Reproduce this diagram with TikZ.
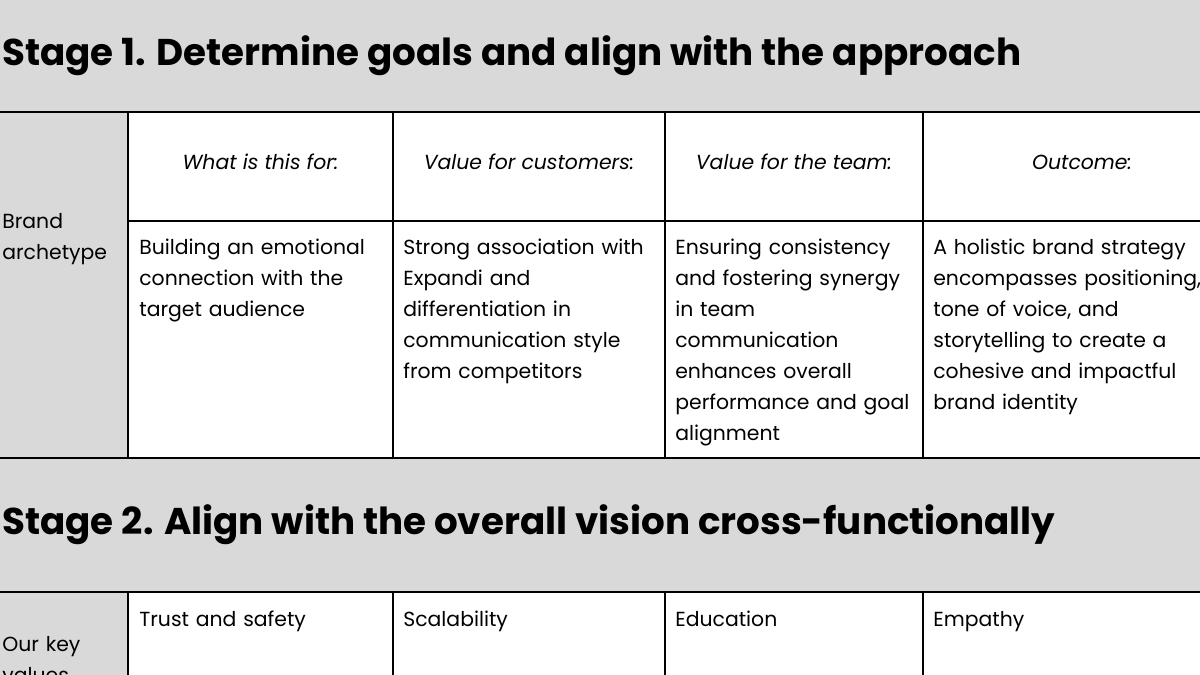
\documentclass[tikz,border=0pt]{standalone}
\usepackage{fontspec}
\setmainfont{Poppins}
\definecolor{bandgray}{HTML}{D9D9D9}
\tikzset{
  celltext/.style={anchor=north west, inner sep=0pt, align=left, text width=#1,
    font=\fontsize{11.6}{17.6}\selectfont},
  headtext/.style={inner sep=0pt, font=\fontsize{11.6}{14}\selectfont\itshape},
  stagetext/.style={anchor=west, inner sep=0pt, font=\fontsize{21.2}{25}\selectfont\bfseries},
  rule/.style={draw=black, line width=0.6pt}
}
\begin{document}
\begin{tikzpicture}[x=0.02cm, y=-0.02cm]
\useasboundingbox (0,0) rectangle (1200,675);
\clip (0,0) rectangle (1200,675);
% bands
\fill[bandgray] (0,0) rectangle (1200,112);
\fill[bandgray] (0,112) rectangle (128,458);
\fill[bandgray] (0,458) rectangle (1200,592);
\fill[bandgray] (0,592) rectangle (128,675);

\node[stagetext] (s1) at (2,56) {Stage 1. Determine goals and align with the approach};
\node[stagetext] (s2) at (2,525) {Stage 2. Align with the overall vision cross-functionally};

% grid lines
\draw[rule] (0,112) -- (1200,112);
\draw[rule] (128,221) -- (1200,221);
\draw[rule] (0,458) -- (1200,458);
\draw[rule] (0,592) -- (1200,592);
\foreach \xx in {128,393,665,923}{
  \draw[rule] (\xx,112) -- (\xx,458);
  \draw[rule] (\xx,592) -- (\xx,675);
}

% stage 1 row
\node[celltext=124] (brand) at (2,213) {Brand\\archetype};
\node[headtext] (h1) at (260.5,162) {What is this for:};
\node[headtext] (h2) at (529,162) {Value for customers:};
\node[headtext] (h3) at (794,162) {Value for the team:};
\node[headtext] (h4) at (1082,162) {Outcome:};

\node[celltext=250] (c1) at (139,239) {Building an emotional\\connection with the\\target audience};
\node[celltext=255] (c2) at (403,239) {Strong association with\\Expandi and\\differentiation in\\communication style\\from competitors};
\node[celltext=245] (c3) at (675,239) {Ensuring consistency\\and fostering synergy\\in team\\communication\\enhances overall\\performance and goal\\alignment};
\node[celltext=300] (c4) at (933,239) {A holistic brand strategy\\encompasses positioning,\\tone of voice, and\\storytelling to create a\\cohesive and impactful\\brand identity};

% stage 2 row
\node[celltext=124] (keyvals) at (2,636) {Our key\\values};
\node[celltext=250] (v1) at (139,611) {Trust and safety};
\node[celltext=250] (v2) at (403,611) {Scalability};
\node[celltext=250] (v3) at (675,611) {Education};
\node[celltext=250] (v4) at (933,611) {Empathy};
\end{tikzpicture}
\end{document}
